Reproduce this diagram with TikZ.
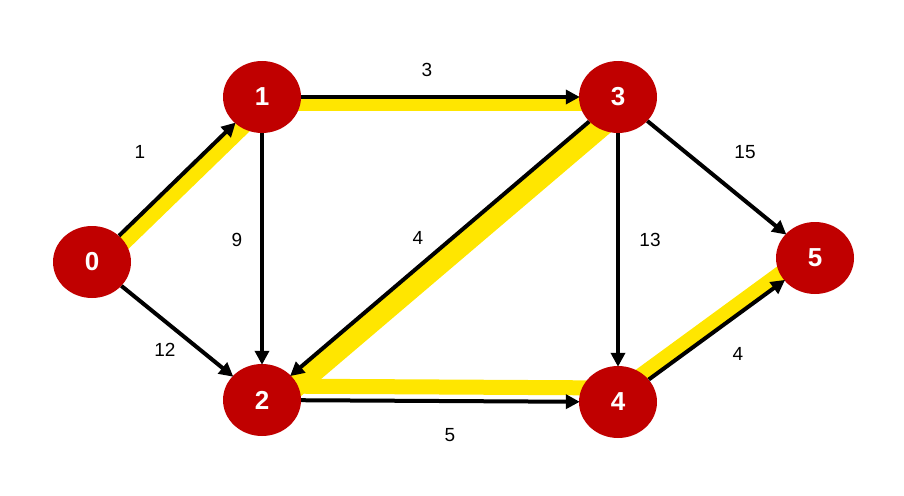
\documentclass[tikz,border=0pt]{standalone}
\usepackage{fontspec}
\setmainfont{Liberation Sans}
\usetikzlibrary{shapes.geometric,arrows.meta}
\definecolor{nred}{RGB}{192,0,0}
\definecolor{hl}{RGB}{255,230,0}
\begin{document}
\begin{tikzpicture}[x=1pt,y=-1pt,
  vert/.style={ellipse,fill=nred,minimum width=78pt,minimum height=72pt,inner sep=0pt,text=white,font=\fontsize{26}{26}\selectfont\bfseries},
  hlt/.style={hl,line width=15pt},
  edge/.style={black,line width=4pt,-{Triangle[length=14pt,width=14pt]},shorten >=-1pt},
  lab/.style={font=\fontsize{19}{19}\selectfont}]
\useasboundingbox (0,0) rectangle (904,495);
\coordinate (c0) at (92,262);
\coordinate (c1) at (262,97);
\coordinate (c2) at (262,400);
\coordinate (c3) at (618,97);
\coordinate (c4) at (618,402);
\coordinate (c5) at (815,258);
% highlights
\draw[hlt] ([shift={(6,6)}]c0) -- ([shift={(6,6)}]c1);
\draw[hlt] ([shift={(0,6)}]c1) -- ([shift={(0,6)}]c3);
\draw[hlt,line width=22pt] ([shift={(8,8)}]c3) -- ([shift={(8,8)}]c2);
\draw[hlt] ([shift={(0,-14)}]c2) -- ([shift={(0,-14)}]c4);
\draw[hlt] ([shift={(-4,-7)}]c4) -- ([shift={(-4,-7)}]c5);
\node[vert] (n0) at (c0) {0};
\node[vert] (n1) at (c1) {1};
\node[vert] (n2) at (c2) {2};
\node[vert] (n3) at (c3) {3};
\node[vert] (n4) at (c4) {4};
\node[vert] (n5) at (c5) {5};
\draw[edge] (n0) -- (n1);
\draw[edge] (n0) -- (n2);
\draw[edge] (n1) -- (n2);
\draw[edge] (n1) -- (n3);
\draw[edge] (n3) -- (n2);
\draw[edge] (n2) -- (n4);
\draw[edge] (n3) -- (n4);
\draw[edge] (n3) -- (n5);
\draw[edge] (n4) -- (n5);
\node[lab] (l01) at (140,152) {1};
\node[lab] (l13) at (427,70) {3};
\node[lab] (l12) at (237,240) {9};
\node[lab] (l32) at (418,238) {4};
\node[lab] (l34) at (650,240) {13};
\node[lab] (l35) at (745,152) {15};
\node[lab] (l02) at (165,350) {12};
\node[lab] (l24) at (450,435) {5};
\node[lab] (l45) at (738,354) {4};
\end{tikzpicture}
\end{document}
